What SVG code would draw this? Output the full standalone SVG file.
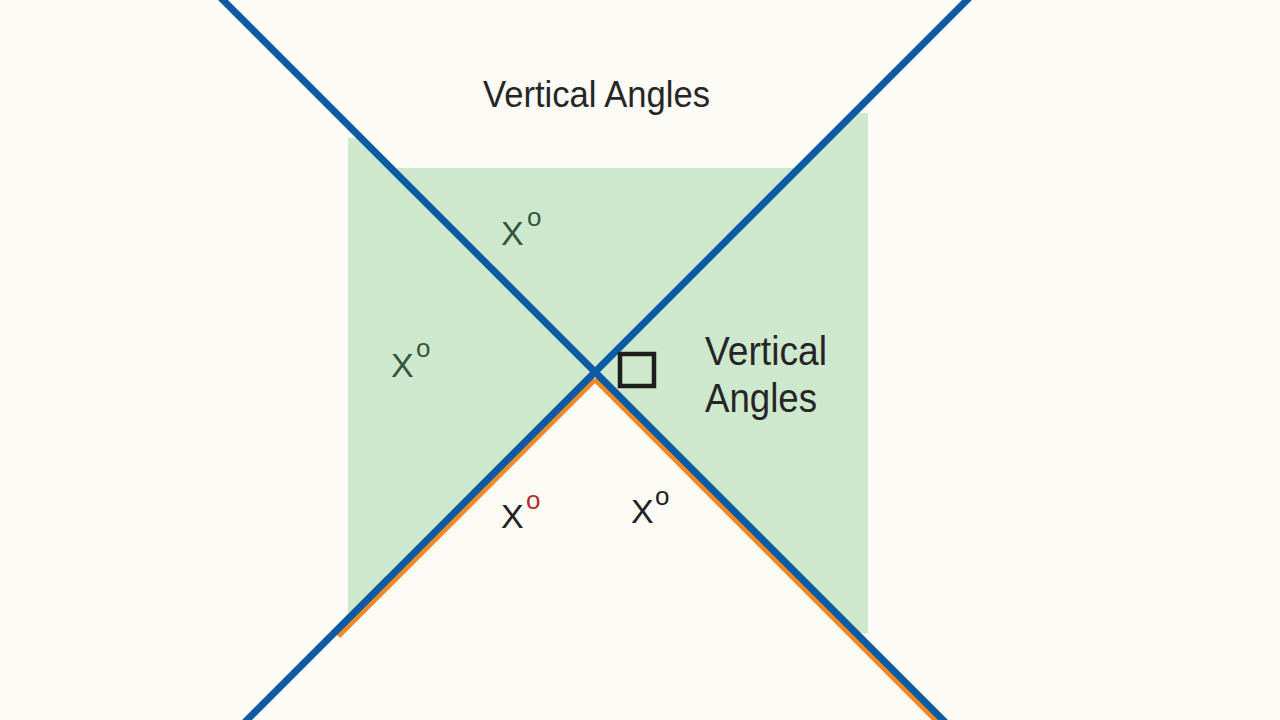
<svg xmlns="http://www.w3.org/2000/svg" width="1280" height="720" viewBox="0 0 1280 720">
  <defs>
    <style>
      .bg { fill: #fdfbf5; }
      .region { fill: #cee8cd; }
      .blue { stroke: #0c5aa2; stroke-width: 7; fill: none; }
      .orange { stroke: #f08a24; stroke-width: 6; fill: none; }
      .title { font-family: "Liberation Sans", Arial, sans-serif; fill: #262626; }
      .lbl { font-family: "Liberation Sans", Arial, sans-serif; font-size: 34px; }
      .deg { font-size: 26px; }
    </style>
  </defs>
  <rect class="bg" x="0" y="0" width="1280" height="720"/>

  <g id="region">
    <polygon class="region" points="348,138 361,138 391,168 799,168 854,113 868,113 868,633 856,633 595,372 348,619"/>
  </g>

  <g id="connectors">
    <line class="orange" x1="595" y1="379" x2="338" y2="636"/>
    <line class="orange" x1="595" y1="379" x2="960" y2="744"/>
    <line class="blue" x1="213" y1="-10" x2="953" y2="730"/>
    <line class="blue" x1="977" y1="-10" x2="237" y2="730"/>
  </g>

  <g id="title">
    <text class="title" x="483" y="107" font-size="36" textLength="227" lengthAdjust="spacingAndGlyphs">Vertical Angles</text>
  </g>

  <g id="right-angle-mark">
    <rect x="620" y="354" width="34" height="32" fill="none" stroke="#1e1e1e" stroke-width="4.5"/>
  </g>

  <g id="side-label">
    <text class="title" x="705" y="365" font-size="40" textLength="122" lengthAdjust="spacingAndGlyphs">Vertical</text>
    <text class="title" x="705" y="412" font-size="40" textLength="112" lengthAdjust="spacingAndGlyphs">Angles</text>
  </g>

  <g id="label-top">
    <text class="lbl" fill="#34573c"><tspan x="501" y="245">X</tspan><tspan class="deg" x="527" y="226">o</tspan></text>
  </g>
  <g id="label-left">
    <text class="lbl" fill="#34573c"><tspan x="391" y="377">X</tspan><tspan class="deg" x="416" y="357">o</tspan></text>
  </g>
  <g id="label-bottom-left">
    <text class="lbl" fill="#222222"><tspan x="501" y="528">X</tspan><tspan class="deg" x="526" y="509" fill="#b0302a">o</tspan></text>
  </g>
  <g id="label-bottom-right">
    <text class="lbl" fill="#222222"><tspan x="631" y="523">X</tspan><tspan class="deg" x="655" y="505">o</tspan></text>
  </g>
</svg>
